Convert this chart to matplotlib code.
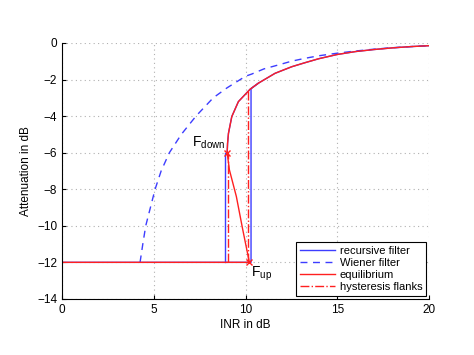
import matplotlib
matplotlib.use("Agg")
import matplotlib.pyplot as plt

plt.rcParams["font.family"] = ["Liberation Sans", "DejaVu Sans"]
plt.rcParams["mathtext.fontset"] = "custom"
plt.rcParams["mathtext.rm"] = "Liberation Sans"

# Wiener filter
wiener_x = [4.25, 4.4, 4.56, 5.07, 5.4, 5.85, 6.5, 7.3, 8.24, 9.0, 10.0, 10.34, 11.0, 11.8, 12.5, 13.24, 14.0, 15.0, 16.0, 17.0, 18.0, 19.0, 20.0]
wiener_y = [-12, -11, -10, -8, -7, -6, -5, -4, -3, -2.45, -1.82, -1.7, -1.42, -1.2, -1.0, -0.84, -0.7, -0.56, -0.44, -0.34, -0.26, -0.2, -0.15]

# upper (stable) branch of the equilibrium
upper_x = [9.0, 9.02, 9.07, 9.25, 9.61, 10.25, 10.7, 11.61, 12.52, 13.24, 14.0, 15.0, 16.0, 17.0, 18.0, 19.0, 20.0]
upper_y = [-6.0, -5.5, -4.94, -4.03, -3.21, -2.53, -2.2, -1.66, -1.3, -1.08, -0.86, -0.63, -0.47, -0.36, -0.27, -0.2, -0.15]

# floor + unstable branch (F_up -> F_down)
lower_x = [0.0, 10.21, 9.85, 9.5, 9.12, 9.0]
lower_y = [-12, -12, -10.22, -8.4, -6.94, -6.0]

# recursive filter jumps
rec_up_x = [0.0, 10.3, 10.3]
rec_up_y = [-12, -12, -2.5]
rec_down_x = [8.9, 8.9]
rec_down_y = [-12, -6.0]

# hysteresis flanks
flank_left_x = [9.05, 9.05]
flank_left_y = [-12, -6.0]
flank_right_x = [10.15, 10.15]
flank_right_y = [-12, -2.6]

f_down = (9.0, -6.0)
f_up = (10.21, -12.0)

blue = "#3d3dff"
red = "#ff2020"

fig = plt.figure(figsize=(4.74, 3.55), dpi=100)
ax = fig.add_axes([0.131, 0.158, 0.774, 0.721])

ax.plot(rec_up_x + upper_x[6:], rec_up_y + upper_y[6:], color=blue, lw=1.0, label="recursive filter")
ax.plot(rec_down_x, rec_down_y, color=blue, lw=1.0)
ax.plot(upper_x[:7], upper_y[:7], color=blue, lw=1.0)
ax.plot(wiener_x, wiener_y, color=blue, lw=1.0, ls=(0, (5, 4)), label="Wiener filter")
ax.plot(lower_x + upper_x[1:], lower_y + upper_y[1:], color=red, lw=1.0, label="equilibrium")
ax.plot(flank_left_x, flank_left_y, color=red, lw=1.0, ls="-.", label="hysteresis flanks")
ax.plot(flank_right_x, flank_right_y, color=red, lw=1.0, ls="-.")

ax.plot([f_down[0], f_up[0]], [f_down[1], f_up[1]], ls="none", marker="x", color=red, ms=5, mew=1.0)
ax.text(f_down[0] - 0.1, f_down[1] + 0.1, r"F$_{\mathrm{down}}$", ha="right", va="bottom", fontsize=10)
ax.text(f_up[0] + 0.1, f_up[1] - 0.15, r"F$_{\mathrm{up}}$", ha="left", va="top", fontsize=10)

ax.set_xlim(0, 20)
ax.set_ylim(-14, 0)
ax.set_xticks([0, 5, 10, 15, 20])
ax.set_yticks(range(-14, 1, 2))
ax.grid(True, color="#b0b0b0", ls=(0, (1, 3)), lw=0.8)
ax.spines["top"].set_visible(False)
ax.spines["right"].set_visible(False)
ax.tick_params(direction="in", labelsize=8.5, length=3)
ax.set_xlabel("INR in dB", fontsize=8.5, labelpad=2)
ax.set_ylabel("Attenuation in dB", fontsize=8.5)

leg = ax.legend(loc="lower right", fontsize=8, fancybox=False, framealpha=1,
                edgecolor="black", handlelength=3.2, borderpad=0.3, labelspacing=0.2,
                handletextpad=0.4, borderaxespad=0.3)
leg.get_frame().set_linewidth(0.8)

fig.savefig("out.png", dpi=100)
